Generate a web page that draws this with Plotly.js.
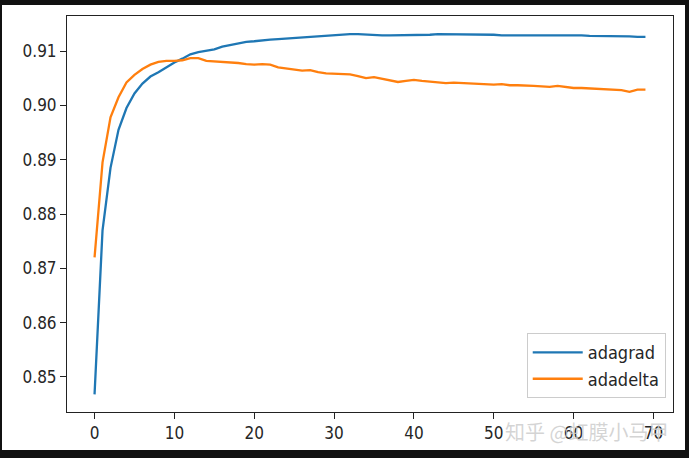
<!DOCTYPE html>
<html>
<head>
<meta charset="utf-8">
<script src="https://cdn.plot.ly/plotly-3.0.1.min.js"></script>
<style>
html,body{margin:0;padding:0;background:#111;width:689px;height:458px;overflow:hidden;}
#plot{position:absolute;left:2px;top:5px;width:683px;height:445px;background:#fff;}
</style>
</head>
<body>
<div id="plot"></div>
<script>
const epochs = Array.from({length:70},(_,i)=>i);
const adagrad = [0.8468,0.8770,0.8885,0.8955,0.8995,0.9022,0.9040,0.9053,0.9061,0.9070,
0.9079,0.9086,0.9094,0.9098,0.9101,0.9103,0.9108,0.9111,0.9115,0.9117,
0.9118,0.9120,0.9121,0.9122,0.9123,0.9124,0.9125,0.9126,0.9127,0.9128,
0.9130,0.9131,0.9131,0.9131,0.9130,0.9130,0.9129,0.9129,0.9129,0.9129,
0.9129,0.9130,0.9130,0.9131,0.9131,0.9130,0.9130,0.9131,0.9131,0.9131,
0.9130,0.9129,0.9129,0.9130,0.9130,0.9130,0.9129,0.9129,0.9129,0.9129,
0.9129,0.9129,0.9128,0.9128,0.9128,0.9127,0.9127,0.9127,0.9126,0.9126];
const adadelta = [0.8720,0.8895,0.8978,0.9015,0.9042,0.9056,0.9067,0.9075,0.9080,0.9082,
0.9082,0.9083,0.9087,0.9087,0.9082,0.9081,0.9081,0.9080,0.9078,0.9076,
0.9075,0.9076,0.9075,0.9070,0.9068,0.9065,0.9064,0.9065,0.9061,0.9059,
0.9058,0.9057,0.9057,0.9054,0.9050,0.9052,0.9049,0.9047,0.9043,0.9045,
0.9047,0.9045,0.9044,0.9042,0.9041,0.9042,0.9041,0.9040,0.9039,0.9038,
0.9038,0.9039,0.9037,0.9037,0.9037,0.9036,0.9035,0.9034,0.9036,0.9034,
0.9032,0.9032,0.9031,0.9030,0.9029,0.9029,0.9028,0.9025,0.9029,0.9029];
const xTicks = [0,10,20,30,40,50,60,70];
const yTicks = [0.85,0.86,0.87,0.88,0.89,0.90,0.91];
const yTickText = ['0.85','0.86','0.87','0.88','0.89','0.90','0.91'];
const seriesNames = ['adagrad','adadelta'];
const watermark = '知乎 @虹膜小马甲';

const FAM = 'DejaVu Sans Condensed, DejaVu Sans';
const tickFont = {family:FAM, size:17, color:'#262626'};
const data = [
  {x:epochs, y:adagrad, name:seriesNames[0], type:'scatter', mode:'lines', line:{color:'#1f77b4', width:2.3}},
  {x:epochs, y:adadelta, name:seriesNames[1], type:'scatter', mode:'lines', line:{color:'#ff7f0e', width:2.3}}
];
const layout = {
  width:683, height:445,
  margin:{l:65, r:12, t:11, b:38},
  paper_bgcolor:'#fff', plot_bgcolor:'#fff',
  font:tickFont,
  showlegend:true,
  legend:{x:0.988, y:0.035, xanchor:'right', yanchor:'bottom', bgcolor:'rgba(255,255,255,0.8)',
          bordercolor:'#cccccc', borderwidth:1, itemwidth:50, tracegroupgap:0,
          font:{family:FAM, size:18, color:'#262626'}},
  xaxis:{range:[-3.45,72.45], tickvals:xTicks, ticks:'outside', ticklen:6, tickcolor:'#222',
         showgrid:false, zeroline:false, showline:true, mirror:true, linecolor:'#222', linewidth:1,
         tickfont:tickFont},
  yaxis:{range:[0.84355,0.91645], tickvals:yTicks, ticktext:yTickText, ticks:'outside', ticklen:6, tickcolor:'#222',
         showgrid:false, zeroline:false, showline:true, mirror:true, linecolor:'#222', linewidth:1,
         tickfont:tickFont},
  annotations:[{text:watermark, xref:'paper', yref:'paper', x:0.995, y:-0.0505, xanchor:'right', yanchor:'middle',
    showarrow:false, font:{family:'Noto Sans CJK SC', size:20, color:'rgba(205,205,205,0.85)'}}]
};
Plotly.newPlot('plot', data, layout, {displayModeBar:false, staticPlot:true});
</script>
</body>
</html>
